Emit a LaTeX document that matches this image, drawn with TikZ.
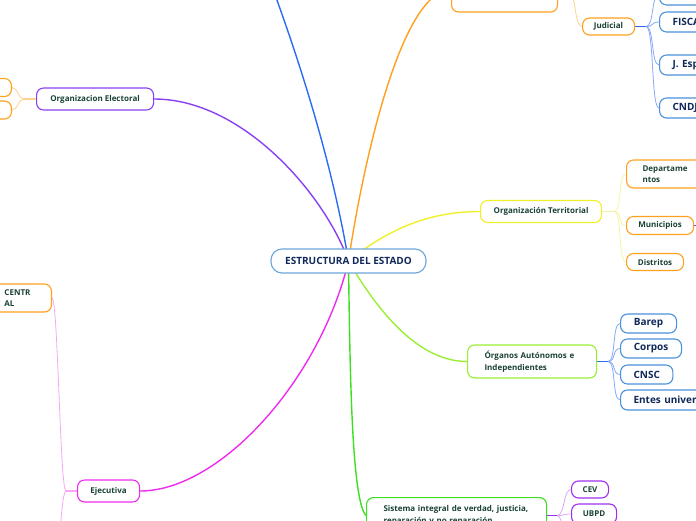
\documentclass[tikz,border=0pt]{standalone}
\usepackage{fontspec}
\setmainfont{Open Sans}
\usetikzlibrary{backgrounds,positioning}

\definecolor{inkgreen}{HTML}{1A4233}
\definecolor{inknavy}{HTML}{10295A}
\definecolor{rootblue}{HTML}{6AA6DC}
\definecolor{lineblue}{HTML}{2C6BF2}
\definecolor{boxblue}{HTML}{4A92DC}
\definecolor{twigblue}{HTML}{86A8F8}
\definecolor{violet}{HTML}{8A40F2}
\definecolor{orng}{HTML}{FFA01E}
\definecolor{twigorng}{HTML}{FFD190}
\definecolor{yell}{HTML}{F0F02A}
\definecolor{twigyell}{HTML}{F4F4A0}
\definecolor{lime}{HTML}{99EE33}
\definecolor{grn}{HTML}{3CE020}
\definecolor{magn}{HTML}{EE2CEE}
\definecolor{twigpink}{HTML}{F4A8F4}
\definecolor{purp}{HTML}{A030F0}
\definecolor{twigpurp}{HTML}{D9A6F6}

\begin{document}
\begin{tikzpicture}[x=1pt,y=-1pt,
  topic/.style={draw,fill=white,rounded corners=7pt,line width=1.1pt,text=inkgreen,
    font=\fontsize{8}{11.5}\selectfont\bfseries,inner xsep=8pt,inner ysep=0pt},
  leafbox/.style={topic,draw=boxblue,text=inknavy,font=\fontsize{10}{12}\selectfont\bfseries,
    minimum height=20pt,inner xsep=13pt},
  cutbox/.style={text width=#1,align=left},
  branch/.style={line width=1.4pt},
  twig/.style={line width=0.8pt},
  stub/.style={line width=1.4pt}
]
\useasboundingbox (0,0) rectangle (696,520);

% root
\node[topic,draw=rootblue,text=inknavy,font=\fontsize{10}{12}\selectfont\bfseries,
  rounded corners=11pt,minimum width=155pt,minimum height=24pt] (es) at (348.5,261) {ESTRUCTURA DEL ESTADO};

% Organizacion Electoral
\node[topic,draw=violet,anchor=west,minimum width=117pt,minimum height=22pt] (oe) at (36,99) {Organizacion Electoral};
\node[topic,draw=orng,anchor=east,minimum width=50pt,minimum height=18pt] (oe1) at (12,87.5) {};
\node[topic,draw=orng,anchor=east,minimum width=50pt,minimum height=18pt] (oe2) at (12,110) {};

% rama superior y Judicial
\node[topic,draw=orng,anchor=west,minimum width=106pt,minimum height=44pt] (tb) at (451,-10) {};
\node[topic,draw=orng,anchor=west,minimum width=52pt,minimum height=17pt] (ju) at (582,26.5) {Judicial};
\node[leafbox,anchor=west,minimum width=80pt] (jt) at (659,-5) {};
\node[leafbox,cutbox=54pt,anchor=west] (fi) at (659,22) {FISCA};
\node[leafbox,cutbox=54pt,anchor=west] (je) at (659,65) {J. Esp};
\node[leafbox,cutbox=54pt,anchor=west] (cn) at (659,108) {CNDJ};

% Organizacion Territorial
\node[topic,draw=yell,anchor=west,minimum width=121pt,minimum height=22pt] (ot) at (480,211.5) {Organización Territorial};
\node[topic,draw=orng,cutbox=48pt,inner xsep=16pt,anchor=west,minimum height=28pt] (dp) at (626,174) {Departame\\ntos};
\node[topic,draw=orng,anchor=west,minimum width=67pt,minimum height=18pt] (mu) at (626,225.5) {Municipios};
\node[topic,draw=orng,anchor=west,minimum width=57pt,minimum height=17pt] (di) at (626,262) {Distritos};

% Organos autonomos
\node[topic,draw=lime,cutbox=95pt,inner xsep=17pt,anchor=west,minimum height=33pt] (oa) at (467,361.5) {Órganos Autónomos e\\Independientes};
\node[leafbox,anchor=west,minimum width=56pt,minimum height=19pt] (ba) at (620,323.5) {Barep};
\node[leafbox,anchor=west,minimum width=61pt,minimum height=19pt] (co) at (620,348.5) {Corpos};
\node[leafbox,anchor=west,minimum width=52pt,minimum height=19pt] (cs) at (620,374.5) {CNSC};
\node[leafbox,cutbox=70pt,anchor=west] (en) at (620,400) {Entes univers};

% Sistema integral
\node[topic,draw=grn,cutbox=146pt,inner xsep=17pt,anchor=north west,minimum height=36pt] (sv) at (366,497) {Sistema integral de verdad, justicia,\\reparación y no reparación};
\node[topic,draw=purp,anchor=west,minimum width=37pt,minimum height=17pt] (cv) at (571,489.5) {CEV};
\node[topic,draw=purp,anchor=west,minimum width=45pt,minimum height=20pt] (ub) at (571,514) {UBPD};

% Ejecutiva
\node[topic,draw=magn,anchor=west,minimum width=62pt,minimum height=22pt] (ej) at (77,491) {Ejecutiva};
\node[topic,draw=orng,cutbox=32pt,inner xsep=15pt,anchor=east,minimum height=28pt] (ce) at (52,298) {CENTR\\AL};

% extremos libres fuera del cuadro
\coordinate (bl) at (266,-30);
\coordinate (ej3) at (52,600);
\coordinate (sv3) at (571,560);
\coordinate (mu1) at (730,225.5);

\begin{scope}[on background layer]
% ramas principales
\draw[branch,lineblue] (es.center) .. controls (330,150) and (292,40) .. (bl);
\draw[branch,violet] (es.center) .. controls (325,195) and (243,99) .. (oe.east);
\draw[branch,orng] (es.center) .. controls (362,170) and (400,-10) .. (tb.west);
\draw[branch,yell] (es.center) .. controls (385,232) and (425,211.5) .. (ot.west);
\draw[branch,lime] (es.center) .. controls (380,315) and (420,361.5) .. (oa.west);
\draw[branch,grn] (es.center) .. controls (350,380) and (352,500) .. (sv.west);
\draw[branch,magn] (es.center) .. controls (320,380) and (220,491) .. (ej.east);

% ramas secundarias
\draw[stub,twigorng] (oe.west) -- ++(-12,0) coordinate (joe);
\foreach \c in {oe1,oe2}
  \draw[twig,twigorng] (joe) .. controls +(-6,0) and +(6,0) .. (\c.east);

\draw[stub,twigorng] (tb.east) -- ++(10,0) coordinate (jtb);
\draw[twig,twigorng] (jtb) .. controls +(8,0) and +(-8,0) .. (ju.west);

\draw[stub,lineblue] (ju.east) -- ++(11,0) coordinate (jju);
\foreach \c in {jt,fi,je,cn}
  \draw[twig,twigblue] (jju) .. controls +(8,0) and +(-8,0) .. (\c.west);

\draw[stub,twigyell] (ot.east) -- ++(12,0) coordinate (jot);
\foreach \c in {dp,mu,di}
  \draw[twig,twigyell] (jot) .. controls +(8,0) and +(-8,0) .. (\c.west);
\draw[twig,purp] (mu.east) -- (mu1);

\draw[stub,lineblue] (oa.east) -- ++(11,0) coordinate (joa);
\foreach \c in {ba,co,cs,en}
  \draw[twig,twigblue] (joa) .. controls +(8,0) and +(-8,0) .. (\c.west);

\draw[stub,purp] (sv.east) -- ++(10,0) coordinate (jsv);
\foreach \c in {cv,ub}
  \draw[twig,twigpurp] (jsv) .. controls +(8,0) and +(-8,0) .. (\c.west);
\draw[twig,twigpurp] (jsv) .. controls +(8,0) and +(-8,0) .. (sv3);

\draw[stub,twigpink] (ej.west) -- ++(-11,0) coordinate (jej);
\draw[twig,twigpink] (jej) .. controls +(-6,0) and +(6,0) .. (ce.east);
\draw[twig,twigpink] (jej) .. controls +(-6,0) and +(6,0) .. (ej3);
\end{scope}
\end{tikzpicture}
\end{document}
